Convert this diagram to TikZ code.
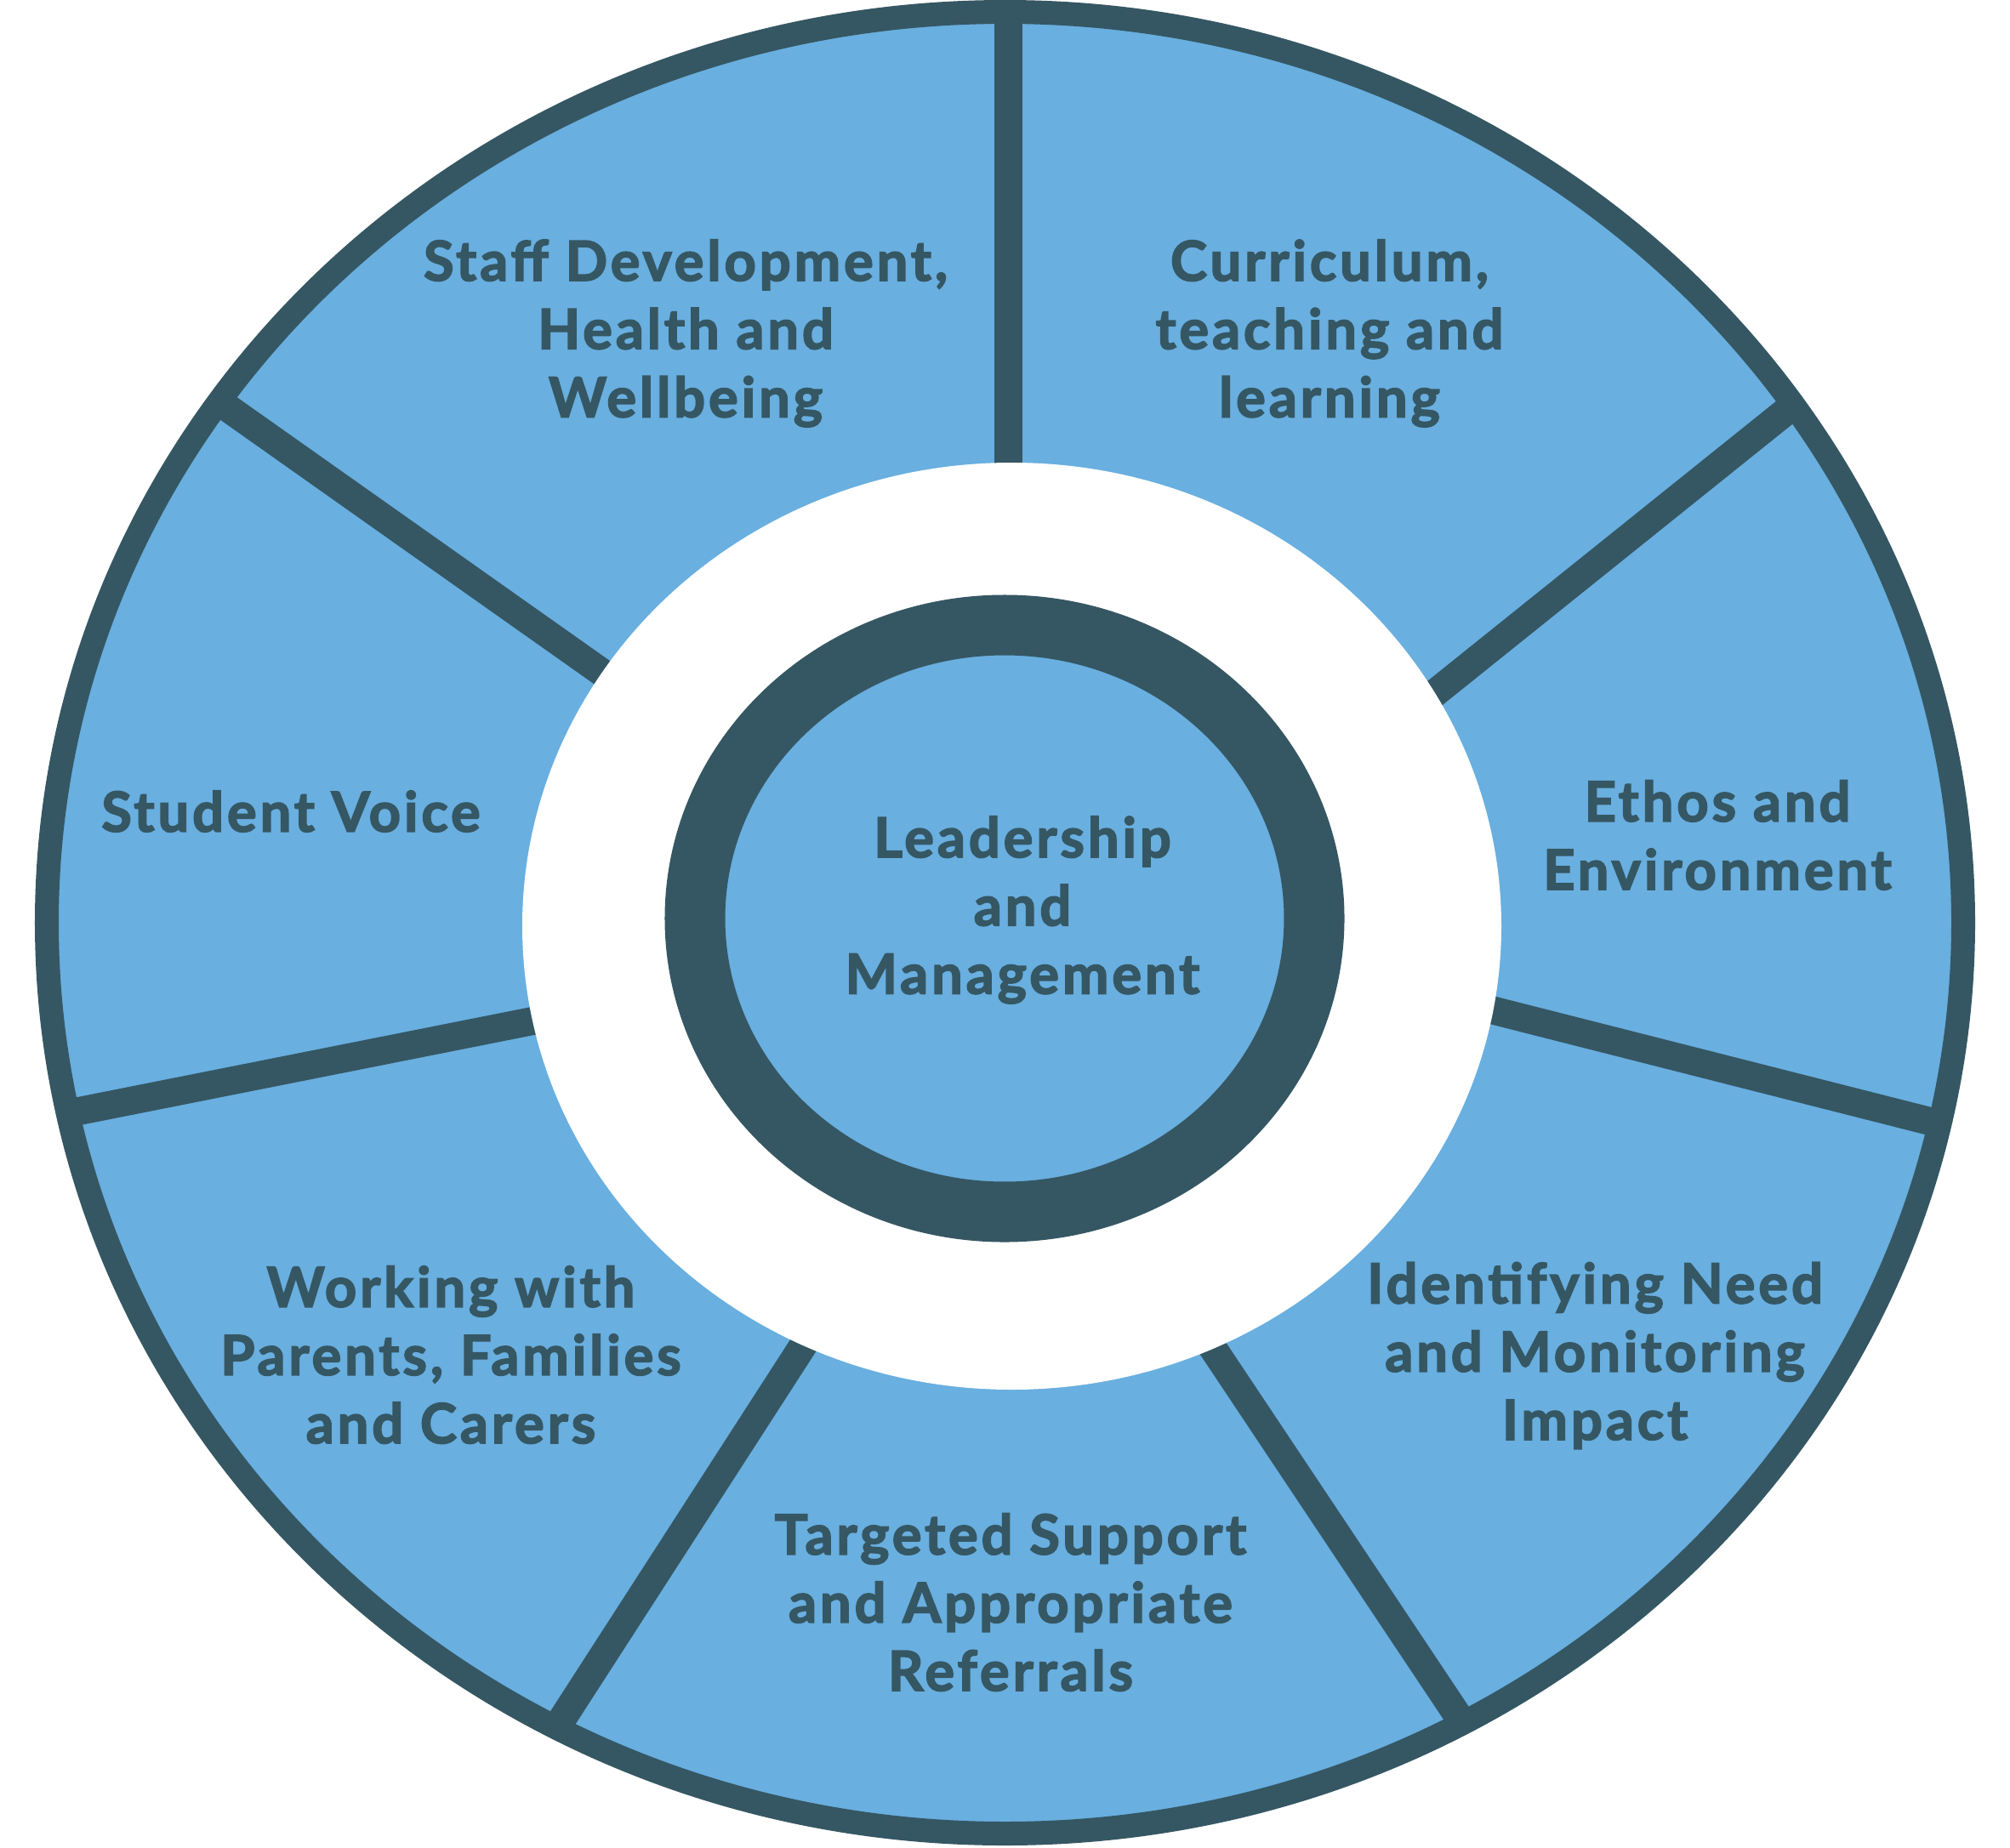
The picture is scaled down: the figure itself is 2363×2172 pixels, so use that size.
\documentclass[tikz,border=0pt]{standalone}
\usepackage{fontspec}
\newfontfamily\latofont[LetterSpace=6,BoldFeatures={FakeBold=2.5}]{Lato}
\definecolor{wheelblue}{RGB}{105,175,224}
\definecolor{wheeldark}{RGB}{53,87,99}

\begin{document}
\begin{tikzpicture}[x=0.01cm,y=-0.01cm,
  divider/.style={wheeldark,line width=0.33cm},
  seglabel/.style={text=wheeldark,align=center,inner sep=0pt,
    font=\latofont\bfseries\fontsize{18.5pt}{22.8pt}\selectfont}]
\useasboundingbox (0,0) rectangle (2363,2172);

% wheel background
\fill[wheelblue] (1181.5,1085) ellipse [x radius=1126.5, y radius=1071];

% dividers between the segments
\begin{scope}
\clip (1181.5,1085) ellipse [x radius=1126.5, y radius=1071];
\draw[divider] (1185.5,600) -- (1185.5,0);
\draw[divider] (752,822) -- (223,448);
\draw[divider] (1647,847) -- (2139,452);
\draw[divider] (1704,1175) -- (2318,1331);
\draw[divider] (1399,1545) -- (1741,2058);
\draw[divider] (972,1539) -- (632,2066);
\draw[divider] (679,1190) -- (35,1318);
\end{scope}

% white gap and rim
\fill[white] (1189.5,1089) ellipse [x radius=575.5, y radius=545];
\draw[wheeldark,line width=0.28cm] (1181.5,1085) ellipse [x radius=1126.5, y radius=1071];

% centre
\draw[wheeldark,fill=wheelblue,line width=0.71cm] (1181,1080) ellipse [x radius=364, y radius=345];

\node[seglabel] (lead) at (1202,1070) {Leadership\\and\\Management};
\node[seglabel] (staff) at (806,392) {Staff Development,\\Health and\\Wellbeing};
\node[seglabel] (curric) at (1563,392) {Curriculum,\\teaching and\\learning};
\node[seglabel] (ethos) at (2019,982) {Ethos and\\Environment};
\node[seglabel] (identify) at (1875,1594) {Identifying Need\\and Monitoring\\Impact};
\node[seglabel] (target) at (1188,1884) {Targeted Support\\and Appropriate\\Referrals};
\node[seglabel] (working) at (530,1593) {Working with\\Parents, Families\\and Carers};
\node[seglabel] (voice) at (342,954) {Student Voice};
\end{tikzpicture}
\end{document}
